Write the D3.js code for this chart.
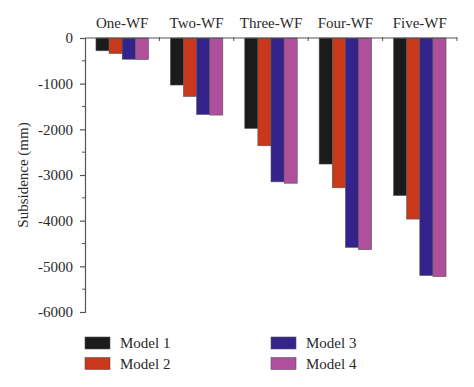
<!DOCTYPE html>
<html>
<head>
<meta charset="utf-8">
<script src="https://cdn.jsdelivr.net/npm/d3@7"></script>
<style>
  body { margin: 0; background: #fff; }
  text { font-family: "Liberation Serif", "DejaVu Serif", serif; fill: #2a2a2a; }
</style>
</head>
<body>
<div id="chart"></div>
<script>
// data
const categories = ['One-WF', 'Two-WF', 'Three-WF', 'Four-WF', 'Five-WF']
const models = ['Model 1', 'Model 2', 'Model 3', 'Model 4']
const model1 = [-280, -1030, -1980, -2760, -3450]
const model2 = [-340, -1280, -2360, -3280, -3965]
const model3 = [-465, -1675, -3150, -4585, -5200]
const model4 = [-472, -1688, -3180, -4635, -5225]
const yTicks = [0, -1000, -2000, -3000, -4000, -5000, -6000]
const colors = ['#1b1b1b', '#c9381b', '#33238a', '#b04f9c']

const series = [model1, model2, model3, model4]

const W = 474, H = 387
const margin = { top: 38, right: 17, bottom: 75, left: 85 }
const width = W - margin.left - margin.right
const height = H - margin.top - margin.bottom

const svg = d3.select('#chart').append('svg')
    .attr('width', W)
    .attr('height', H)

const g = svg.append('g')
    .attr('transform', 'translate(' + margin.left + ',' + margin.top + ')')

const x = d3.scaleBand()
    .domain(categories)
    .range([0, width])
    .paddingInner(0.295)
    .paddingOuter(0.1475)

const xInner = d3.scaleBand()
    .domain(models)
    .range([0, x.bandwidth()])

const y = d3.scaleLinear()
    .domain([0, -6000])
    .range([0, height])

// bars
categories.forEach(function (cat, i) {
    models.forEach(function (m, j) {
        const v = series[j][i]
        g.append('rect')
            .attr('x', x(cat) + xInner(m))
            .attr('y', y(0))
            .attr('width', xInner.bandwidth())
            .attr('height', y(v) - y(0))
            .attr('fill', colors[j])
            .attr('stroke', '#555')
            .attr('stroke-width', 0.6)
    })
})

// top axis line with boundary ticks
const axisColor = '#555'
g.append('line')
    .attr('x1', 0).attr('x2', width)
    .attr('y1', 0).attr('y2', 0)
    .attr('stroke', axisColor).attr('stroke-width', 1.2)
const step = x.step()
d3.range(1, categories.length + 1).forEach(function (k) {
    g.append('line')
        .attr('x1', k * step).attr('x2', k * step)
        .attr('y1', -1).attr('y2', 3)
        .attr('stroke', axisColor).attr('stroke-width', 1)
})

// category labels above the axis
g.selectAll('.cat')
    .data(categories)
    .join('text')
    .attr('class', 'cat')
    .attr('x', d => x(d) + x.bandwidth() / 2)
    .attr('y', -10)
    .attr('text-anchor', 'middle')
    .attr('font-size', 15)
    .text(d => d)

// y axis
const yAxis = g.append('g')
    .call(d3.axisLeft(y).tickValues(yTicks).tickSize(5).tickPadding(7).tickFormat(d3.format('d')))
yAxis.select('.domain').attr('stroke', axisColor).attr('stroke-width', 1.2)
yAxis.selectAll('.tick line').attr('stroke', axisColor).attr('stroke-width', 1.2)
yAxis.selectAll('.tick text')
    .attr('font-size', 15)
    .attr('fill', '#2a2a2a')
    .attr('font-family', '"Liberation Serif", serif')
    .text(d => d === 0 ? '0' : '-' + Math.abs(d))

// minor ticks
const minor = d3.range(-500, -6000, -1000)
g.selectAll('.minor')
    .data(minor)
    .join('line')
    .attr('x1', -3).attr('x2', 0)
    .attr('y1', d => y(d)).attr('y2', d => y(d))
    .attr('stroke', axisColor).attr('stroke-width', 1)

// y axis title
g.append('text')
    .attr('transform', 'translate(' + (-57) + ',' + (height / 2) + ') rotate(-90)')
    .attr('text-anchor', 'middle')
    .attr('font-size', 15)
    .text('Subsidence (mm)')

// legend
const legend = svg.append('g')
const legX = [85, 271]
const legY = [337, 357.5]
models.forEach(function (m, j) {
    const lx = legX[Math.floor(j / 2)]
    const ly = legY[j % 2]
    legend.append('rect')
        .attr('x', lx).attr('y', ly)
        .attr('width', 25).attr('height', 12)
        .attr('fill', colors[j])
        .attr('stroke', '#555')
        .attr('stroke-width', 0.6)
    legend.append('text')
        .attr('x', lx + 35).attr('y', ly + 11)
        .attr('font-size', 15)
        .text(m)
})
</script>
</body>
</html>
